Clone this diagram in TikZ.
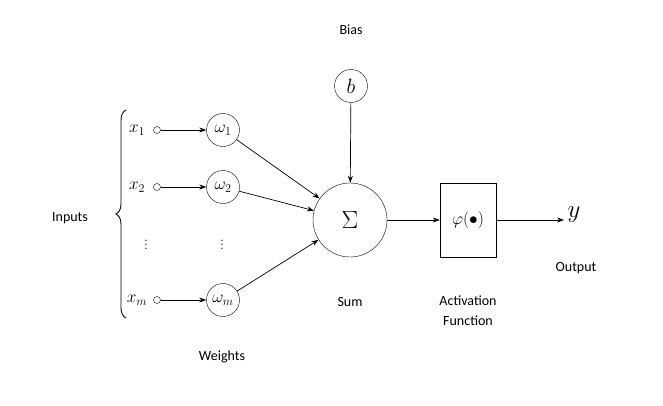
\documentclass[tikz,border=0pt]{standalone}
\usepackage{fontspec}
\setsansfont{Carlito}
\usetikzlibrary{arrows.meta,decorations.pathreplacing}
\begin{document}
\begin{tikzpicture}[x=1pt,y=-1pt,
  lab/.style={font=\sffamily\fontsize{14}{16}\selectfont},
  wc/.style={draw,circle,minimum size=33pt,inner sep=0pt,font=\fontsize{17}{19}\selectfont},
  sc/.style={draw,circle,minimum size=7pt,inner sep=0pt},
  arr/.style={-{Stealth[length=7pt,width=5pt]},line width=0.7pt}]
\useasboundingbox (0,0) rectangle (663,405);
\node[lab] (bias) at (351,30) {Bias};
\node[wc,font=\fontsize{22}{24}\selectfont] (b) at (351,86) {$b$};
\node[draw,circle,minimum size=74pt,inner sep=0pt,font=\fontsize{34}{36}\selectfont] (sum) at (350,220) {$\Sigma$};
\node[draw,minimum width=56pt,minimum height=74pt,font=\fontsize{18}{20}\selectfont] (act) at (468,220) {$\varphi(\bullet)$};
\node[font=\fontsize{30}{32}\selectfont] (y) at (574,215) {$y$};
\node[lab] (out) at (576,268) {Output};
\node[lab,align=center] (actl) at (468,311) {Activation\\[4pt]Function};
\node[lab] (suml) at (350,302) {Sum};
\node[lab] (wl) at (222,357) {Weights};
\node[lab] (inl) at (70,218) {Inputs};
\foreach \i/\yy/\s in {1/130/1,2/187/2,m/300/m}{
  \node[font=\fontsize{18}{20}\selectfont] (x\i) at (137,\yy) {$x_{\s}$};
  \node[sc] (c\i) at (157,\yy) {};
  \node[wc] (w\i) at (223,\yy) {$\omega_{\s}$};
  \draw[arr] (c\i) -- (w\i);
  \draw[arr] (w\i) -- (sum);
}
\node[inner sep=0pt,font=\fontsize{14}{16}\selectfont] (d1) at (146,242) {$\vdots$};
\node[inner sep=0pt,font=\fontsize{14}{16}\selectfont] (d2) at (222,242) {$\vdots$};
\draw[arr] (b) -- (sum);
\draw[arr] (sum) -- (act);
\draw[arr] (act.east) -- (y.west|-act.east);
\coordinate (bt) at (126,110);
\coordinate (bb) at (126,318);
\draw[decorate,decoration={brace,amplitude=10pt},line width=0.9pt] (bb) -- (bt);
\end{tikzpicture}
\end{document}
